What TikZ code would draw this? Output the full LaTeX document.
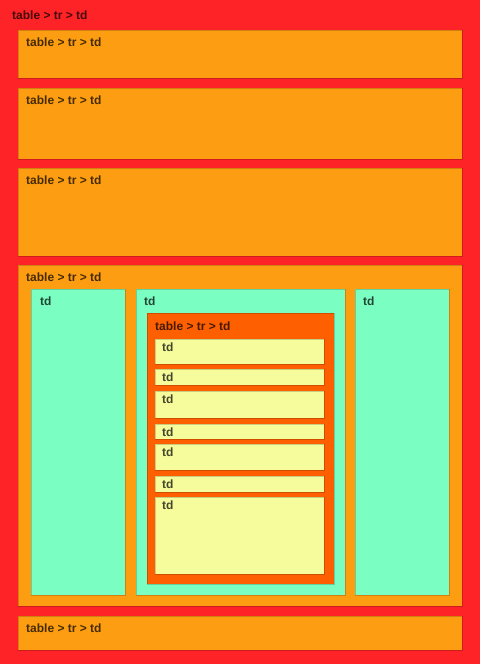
\documentclass[tikz,border=0pt]{standalone}
\usepackage{fontspec}
\setmainfont{Liberation Sans}
\definecolor{cRed}{HTML}{FE2326}
\definecolor{cOrange}{HTML}{FD9D12}
\definecolor{cTeal}{HTML}{7BFEC1}
\definecolor{cDeep}{HTML}{FE5F00}
\definecolor{cYellow}{HTML}{F6FC9B}
\tikzset{
  cellbox/.style={draw=black, draw opacity=0.18, line width=1pt},
  lbl/.style={anchor=base west, inner sep=0pt, font=\fontsize{12pt}{14pt}\selectfont\bfseries, text=black, text opacity=0.72},
}
\newcommand{\cellbox}[7]{% name, color, x1, y1, x2, y2, label-dy
  \path[cellbox, fill=#2] (#3,#4) rectangle (#5,#6);
  \coordinate (#1) at (#3,#4);
}
\begin{document}
\begin{tikzpicture}[x=1pt,y=-1pt]
\useasboundingbox (0,0) rectangle (480,664);
\fill[cRed] (0,0) rectangle (480,664);
\node[lbl] (t0) at (12,19) {table > tr > td};
% rows
\path[cellbox, fill=cOrange] (18,30) rectangle (462,78);
\node[lbl] (t1) at (26,46) {table > tr > td};
\path[cellbox, fill=cOrange] (18,88) rectangle (462,159);
\node[lbl] (t2) at (26,104) {table > tr > td};
\path[cellbox, fill=cOrange] (18,168) rectangle (462,256);
\node[lbl] (t3) at (26,184) {table > tr > td};
\path[cellbox, fill=cOrange] (18,265) rectangle (462,606);
\node[lbl] (t4) at (26,281) {table > tr > td};
\path[cellbox, fill=cOrange] (18,616) rectangle (462,650);
\node[lbl] (t5) at (26,632) {table > tr > td};
% tds in row 4
\path[cellbox, fill=cTeal] (31,289) rectangle (125,595);
\node[lbl] (d1) at (40,305) {td};
\path[cellbox, fill=cTeal] (136,289) rectangle (345,595);
\node[lbl] (d2) at (144,305) {td};
\path[cellbox, fill=cTeal] (355,289) rectangle (449,595);
\node[lbl] (d3) at (363,305) {td};
% nested table
\path[cellbox, fill=cDeep] (147,313) rectangle (334,584);
\node[lbl] (n0) at (155,330) {table > tr > td};
\foreach \a/\b [count=\i] in {339/364, 369/385, 391/418, 424/439, 444/470, 476/492, 497/574}{
  \path[cellbox, fill=cYellow] (155,\a) rectangle (324,\b);
  \node[lbl] (y\i) at (162,\a+12.8) {td};
}
\end{tikzpicture}
\end{document}
